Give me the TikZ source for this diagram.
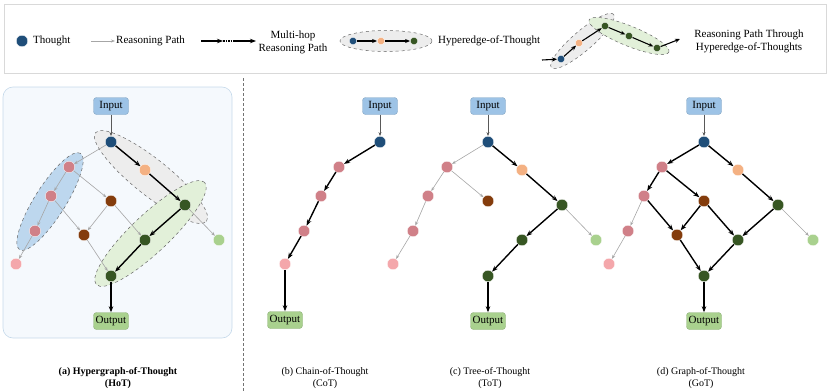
\documentclass[tikz,border=0pt]{standalone}
\usepackage{fontspec}
\setmainfont{Liberation Serif}
\usepackage{tikz}
\usetikzlibrary{shapes.geometric,arrows.meta,positioning}
\definecolor{tblue}{RGB}{31,78,121}
\definecolor{torange}{RGB}{244,177,131}
\definecolor{trose}{RGB}{208,128,136}
\definecolor{tpink}{RGB}{244,167,171}
\definecolor{tbrown}{RGB}{132,60,12}
\definecolor{tgreen}{RGB}{55,86,35}
\definecolor{tlgreen}{RGB}{169,209,142}
\definecolor{inblue}{RGB}{157,195,230}
\definecolor{panelbg}{RGB}{245,249,253}
\definecolor{panelline}{RGB}{197,217,234}
\definecolor{hgray}{RGB}{237,237,237}
\definecolor{hblue}{RGB}{189,215,238}
\definecolor{hgreen}{RGB}{226,240,217}

\begin{document}
\begin{tikzpicture}[x=1pt,y=-1pt,
      dot/.style={circle,inner sep=0pt,minimum size=11.5pt,draw=white,line width=0.3pt},
      sdot/.style={dot,minimum size=7.5pt},
      inbox/.style={rounded corners=3pt,draw=inblue!85!black,fill=inblue,minimum width=35pt,
                    minimum height=17pt,inner sep=1pt,font=\fontsize{11}{13}\selectfont},
      outbox/.style={inbox,draw=tlgreen!85!black,fill=tlgreen},
      hedge/.style={ellipse,draw=black!60,dashed,line width=0.5pt,inner sep=0pt},
      lbl/.style={font=\fontsize{11}{13}\selectfont,inner sep=1pt,align=center},
      captext/.style={font=\fontsize{10}{12}\selectfont,align=center},
      arr/.style={-{Stealth[length=4pt,width=3pt]},draw=black!35,line width=0.6pt},
      inarr/.style={arr,draw=black!65},
      hop/.style={-{Stealth[length=6pt,width=4.5pt]},line width=1.4pt},
      shop/.style={-{Stealth[length=5pt,width=4pt]},line width=1.1pt}]
      \useasboundingbox (0,0) rectangle (831,391);

      % Legend
      \draw[black!15,line width=0.6pt] (4,4) rectangle (826,73);
      \node[dot,fill=tblue] (lT) at (22,41) {};
      \node[lbl,anchor=west] (lTt) at (32,41) {Thought};
      \coordinate (lA0) at (91,41);
      \node[lbl,anchor=west] (lRP) at (115,41) {Reasoning Path};
      \draw[arr] (lA0) -- (lRP);
      \coordinate (m1) at (201,41);
      \coordinate (m2) at (223,41);
      \coordinate (m3) at (234,41);
      \coordinate (m4) at (256,41);
      \draw[hop] (m1) -- (m2);
      \draw[line width=1.1pt,dash pattern=on 1.5pt off 1pt] (m2) -- (m3);
      \draw[hop] (m3) -- (m4);
      \node[lbl] (lMH) at (293,42) {Multi-hop\\Reasoning Path};

      \node[hedge,fill=hgray,minimum width=92pt,minimum height=21pt] (lE) at (386,41) {};
      \node[sdot,fill=tblue]   (lE1) at (353,41) {};
      \node[sdot,fill=torange] (lE2) at (381,41) {};
      \node[sdot,fill=tgreen]  (lE3) at (414,41) {};
      \draw[shop] (lE1) -- (lE2);
      \draw[shop] (lE2) -- (lE3);
      \node[lbl,anchor=west] (lH) at (437,41) {Hyperedge-of-Thought};

      \node[hedge,fill=hgray,minimum width=82pt,minimum height=20pt,rotate=40.5] (lS) at (582.5,41) {};
      \node[hedge,fill=hgreen,minimum width=86pt,minimum height=20pt,rotate=-22] (lG) at (629,36) {};
      \coordinate (lS0) at (542,60);
      \node[sdot,fill=tblue]   (lS1) at (561,59) {};
      \node[sdot,fill=torange] (lS2) at (579,43) {};
      \node[sdot,fill=tgreen]  (lS3) at (605,26) {};
      \node[sdot,fill=tgreen]  (lS4) at (629,36) {};
      \node[sdot,fill=tgreen]  (lS5) at (657,48) {};
      \coordinate (lS6) at (680,39);
      \draw[shop] (lS0) -- (lS1);
      \draw[shop] (lS1) -- (lS2);
      \draw[shop] (lS2) -- (lS3);
      \draw[shop] (lS3) -- (lS4);
      \draw[shop] (lS4) -- (lS5);
      \draw[shop] (lS5) -- (lS6);
      \node[lbl] (lRT) at (749,41) {Reasoning Path Through\\Hyperedge-of-Thoughts};

      % Separator
      \draw[black!55,densely dashed,line width=0.6pt] (243,78) -- (243,391);

      % (a) HoT
      \draw[panelline,fill=panelbg,rounded corners=10pt,line width=0.6pt] (3,87) rectangle (232,338);
      \node[hedge,fill=hgray,minimum width=142pt,minimum height=36pt,rotate=-38.6] (aE1) at (151,177) {};
      \node[hedge,fill=hblue,minimum width=114pt,minimum height=31pt,rotate=57.7] (aE2) at (50,201.5) {};
      \node[hedge,fill=hgreen,minimum width=149pt,minimum height=38pt,rotate=43.3] (aE3) at (150.5,233.5) {};
      \node[inbox]  (aIn)  at (111,106) {Input};
      \node[dot,fill=tblue]   (aR)  at (111,142) {};
      \node[dot,fill=trose]   (aP1) at (69,167) {};
      \node[dot,fill=torange] (aO)  at (145,170) {};
      \node[dot,fill=trose]   (aP2) at (51,196) {};
      \node[dot,fill=tbrown]  (aB1) at (111,201) {};
      \node[dot,fill=tgreen]  (aG1) at (185,205) {};
      \node[dot,fill=trose]   (aP3) at (35,231) {};
      \node[dot,fill=tbrown]  (aB2) at (84,235) {};
      \node[dot,fill=tgreen]  (aG2) at (145,240) {};
      \node[dot,fill=tpink]   (aL)  at (16,264) {};
      \node[dot,fill=tlgreen] (aLG) at (219,240) {};
      \node[dot,fill=tgreen]  (aG3) at (111,276) {};
      \node[outbox] (aOut) at (111,321) {Output};
      \draw[inarr] (aIn) -- (aR);
      \draw[arr] (aR) -- (aP1);
      \draw[arr] (aP1) -- (aP2);
      \draw[arr] (aP2) -- (aP3);
      \draw[arr] (aP3) -- (aL);
      \draw[arr] (aP1) -- (aB1);
      \draw[arr] (aP2) -- (aB2);
      \draw[arr] (aB1) -- (aB2);
      \draw[arr] (aB1) -- (aG2);
      \draw[arr] (aB2) -- (aG3);
      \draw[arr] (aG1) -- (aLG);
      \draw[hop] (aR) -- (aO);
      \draw[hop] (aO) -- (aG1);
      \draw[hop] (aG1) -- (aG2);
      \draw[hop] (aG2) -- (aG3);
      \draw[hop] (aG3) -- (aOut);
      \node[captext,font=\fontsize{10}{12}\selectfont\bfseries] (aCap) at (118,378) {(a) Hypergraph-of-Thought\\(HoT)};

      % (b) CoT
      \node[inbox]  (bIn)  at (380,106) {Input};
      \node[dot,fill=tblue] (bR)  at (380,142) {};
      \node[dot,fill=trose] (bP1) at (339,167) {};
      \node[dot,fill=trose] (bP2) at (321,196) {};
      \node[dot,fill=trose] (bP3) at (304,231) {};
      \node[dot,fill=tpink] (bL)  at (285,264) {};
      \node[outbox] (bOut) at (285,320) {Output};
      \draw[inarr] (bIn) -- (bR);
      \draw[hop] (bR) -- (bP1);
      \draw[hop] (bP1) -- (bP2);
      \draw[hop] (bP2) -- (bP3);
      \draw[hop] (bP3) -- (bL);
      \draw[hop] (bL) -- (bOut);
      \node[captext] (bCap) at (325,378) {(b) Chain-of-Thought\\(CoT)};

      % (c) ToT
      \node[inbox]  (cIn)  at (488,106) {Input};
      \node[dot,fill=tblue]   (cR)  at (488,142) {};
      \node[dot,fill=trose]   (cP1) at (447,167) {};
      \node[dot,fill=torange] (cO)  at (522,170) {};
      \node[dot,fill=trose]   (cP2) at (428,196) {};
      \node[dot,fill=tbrown]  (cB1) at (488,201) {};
      \node[dot,fill=tgreen]  (cG1) at (562,205) {};
      \node[dot,fill=trose]   (cP3) at (413,231) {};
      \node[dot,fill=tgreen]  (cG2) at (522,240) {};
      \node[dot,fill=tlgreen] (cLG) at (596,240) {};
      \node[dot,fill=tpink]   (cL)  at (393,264) {};
      \node[dot,fill=tgreen]  (cG3) at (488,276) {};
      \node[outbox] (cOut) at (488,321) {Output};
      \draw[inarr] (cIn) -- (cR);
      \draw[arr] (cR) -- (cP1);
      \draw[arr] (cP1) -- (cP2);
      \draw[arr] (cP2) -- (cP3);
      \draw[arr] (cP3) -- (cL);
      \draw[arr] (cP1) -- (cB1);
      \draw[arr] (cG1) -- (cLG);
      \draw[hop] (cR) -- (cO);
      \draw[hop] (cO) -- (cG1);
      \draw[hop] (cG1) -- (cG2);
      \draw[hop] (cG2) -- (cG3);
      \draw[hop] (cG3) -- (cOut);
      \node[captext] (cCap) at (490,378) {(c) Tree-of-Thought\\(ToT)};

      % (d) GoT
      \node[inbox]  (dIn)  at (704,106) {Input};
      \node[dot,fill=tblue]   (dR)  at (704,142) {};
      \node[dot,fill=trose]   (dP1) at (662,167) {};
      \node[dot,fill=torange] (dO)  at (738,170) {};
      \node[dot,fill=trose]   (dP2) at (644,196) {};
      \node[dot,fill=tbrown]  (dB1) at (704,201) {};
      \node[dot,fill=tgreen]  (dG1) at (778,205) {};
      \node[dot,fill=trose]   (dP3) at (628,231) {};
      \node[dot,fill=tbrown]  (dB2) at (677,235) {};
      \node[dot,fill=tgreen]  (dG2) at (738,240) {};
      \node[dot,fill=tpink]   (dL)  at (609,264) {};
      \node[dot,fill=tlgreen] (dLG) at (813,240) {};
      \node[dot,fill=tgreen]  (dG3) at (704,276) {};
      \node[outbox] (dOut) at (704,321) {Output};
      \draw[inarr] (dIn) -- (dR);
      \draw[arr] (dP2) -- (dP3);
      \draw[arr] (dP3) -- (dL);
      \draw[arr] (dG1) -- (dLG);
      \draw[hop] (dR) -- (dP1);
      \draw[hop] (dR) -- (dO);
      \draw[hop] (dP1) -- (dP2);
      \draw[hop] (dP1) -- (dB1);
      \draw[hop] (dP2) -- (dB2);
      \draw[hop] (dB1) -- (dB2);
      \draw[hop] (dB1) -- (dG2);
      \draw[hop] (dO) -- (dG1);
      \draw[hop] (dG1) -- (dG2);
      \draw[hop] (dB2) -- (dG3);
      \draw[hop] (dG2) -- (dG3);
      \draw[hop] (dG3) -- (dOut);
      \node[captext] (dCap) at (701,378) {(d) Graph-of-Thought\\(GoT)};
    \end{tikzpicture}
\end{document}
